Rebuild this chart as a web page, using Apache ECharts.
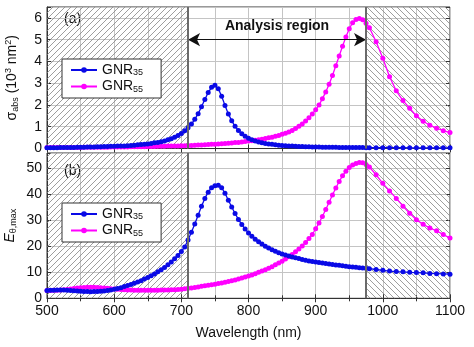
<!DOCTYPE html>
<html><head><meta charset="utf-8">
<script src="https://cdn.jsdelivr.net/npm/echarts@6/dist/echarts.min.js"></script>
<style>html,body{margin:0;padding:0;background:#fff}#c{width:474px;height:347px}</style>
</head><body><div id="c"></div>
<script>
// Wavelength samples (nm)
const wavelength = [
500,505,510,515,520,525,530,535,540,545,550,555,560,565,570,575,580,585,590,595,600,
605,610,615,620,625,630,635,640,645,650,655,660,665,670,675,680,685,690,695,700,
705,710,715,720,725,730,735,740,745,750,755,760,765,770,775,780,785,790,795,800,
805,810,815,820,825,830,835,840,845,850,855,860,865,870,875,880,885,890,895,900,
905,910,915,920,925,930,935,940,945,950,955,960,965,970,975,
980,990,1000,1010,1020,1030,1040,1050,1060,1070,1080,1090,1100];

// (a) absorption cross-section, 10^3 nm^2
const sigmaGNR35 = [
0.04,0.04,0.04,0.04,0.05,0.05,0.05,0.05,0.05,0.06,0.06,0.06,0.07,0.07,0.07,0.08,0.08,0.09,0.09,0.10,0.10,
0.11,0.12,0.12,0.13,0.14,0.15,0.17,0.18,0.20,0.21,0.23,0.26,0.28,0.31,0.35,0.40,0.45,0.52,0.60,0.69,
0.81,0.95,1.12,1.34,1.60,1.92,2.25,2.57,2.81,2.90,2.75,2.40,1.98,1.59,1.27,1.02,0.83,0.68,0.56,0.47,
0.40,0.34,0.30,0.26,0.23,0.21,0.19,0.17,0.15,0.14,0.13,0.12,0.11,0.10,0.09,0.09,0.08,0.08,0.07,0.07,
0.07,0.06,0.06,0.06,0.06,0.06,0.05,0.05,0.05,0.05,0.05,0.05,0.05,0.05,0.04,
0.04,0.04,0.04,0.04,0.04,0.04,0.03,0.03,0.03,0.03,0.03,0.03,0.03];
const sigmaGNR55 = [
0.05,0.05,0.05,0.05,0.05,0.05,0.05,0.05,0.05,0.05,0.05,0.06,0.06,0.06,0.06,0.06,0.06,0.06,0.06,0.07,0.07,
0.07,0.07,0.07,0.07,0.08,0.08,0.08,0.08,0.08,0.09,0.09,0.09,0.10,0.10,0.10,0.11,0.11,0.12,0.12,0.13,
0.13,0.14,0.14,0.15,0.16,0.16,0.17,0.18,0.19,0.20,0.21,0.22,0.23,0.24,0.25,0.27,0.28,0.30,0.32,0.34,
0.36,0.38,0.40,0.43,0.46,0.49,0.52,0.56,0.60,0.65,0.70,0.76,0.83,0.92,1.02,1.13,1.26,1.41,1.58,1.78,
2.00,2.28,2.60,2.95,3.35,3.80,4.25,4.70,5.12,5.50,5.78,5.93,5.97,5.92,5.75,
5.55,4.90,4.15,3.30,2.65,2.20,1.85,1.50,1.25,1.07,0.93,0.82,0.73];

// (b) maximum field enhancement
const eGNR35 = [
3.0,3.1,3.1,3.2,3.2,3.2,3.1,3.0,2.9,2.8,2.7,2.6,2.6,2.5,2.6,2.6,2.7,2.8,3.0,3.2,3.5,
3.8,4.1,4.5,4.9,5.3,5.8,6.3,6.8,7.4,8.0,8.7,9.4,10.2,11.0,11.9,12.9,14.0,15.2,16.5,18.0,
19.8,22.5,25.5,28.6,32.0,35.5,38.5,40.9,42.6,43.4,43.6,42.6,40.5,37.8,35.2,32.7,30.4,28.4,26.7,25.2,
23.9,22.8,21.8,20.9,20.1,19.4,18.7,18.1,17.6,17.1,16.7,16.3,15.9,15.6,15.3,15.0,14.7,14.4,14.2,14.0,
13.8,13.6,13.4,13.2,13.0,12.8,12.7,12.5,12.4,12.2,12.1,12.0,11.8,11.7,11.6,
11.4,11.1,10.8,10.5,10.3,10.2,10.0,9.9,9.8,9.6,9.5,9.4,9.3];
const eGNR55 = [
3.0,3.0,3.1,3.1,3.2,3.3,3.4,3.6,3.8,4.0,4.1,4.2,4.3,4.3,4.3,4.2,4.1,4.0,3.9,3.7,3.6,
3.5,3.4,3.3,3.2,3.2,3.1,3.1,3.1,3.1,3.1,3.1,3.1,3.1,3.2,3.2,3.2,3.3,3.3,3.4,3.5,
3.7,3.9,4.0,4.2,4.4,4.6,4.8,5.0,5.2,5.4,5.7,5.9,6.2,6.5,6.8,7.1,7.4,7.8,8.2,8.6,
9.0,9.5,10.0,10.5,11.0,11.6,12.2,12.9,13.6,14.3,15.1,16.0,16.9,17.9,19.0,20.2,21.5,23.0,24.6,26.8,
29.0,31.5,34.2,37.0,39.8,42.5,45.0,47.2,49.0,50.4,51.4,52.0,52.3,52.2,51.6,
50.6,47.6,44.3,41.4,38.5,35.5,32.8,30.3,28.5,27.1,26.0,24.6,23.2];

const seriesNames = ['GNR35', 'GNR55'];
const regionBounds = [710, 975];
const xRange = [500, 1100];
const arrowLevel = 5;

const BLUE = '#0a0ae6', MAG = '#ff00ff';
const FONT = 'Liberation Sans, Arial, sans-serif';

function hatch(dir) {
  const c = document.createElement('canvas');
  c.width = 6; c.height = 6;
  const g = c.getContext('2d');
  g.strokeStyle = '#858585'; g.lineWidth = 0.8;
  g.beginPath();
  if (dir > 0) {
    g.moveTo(0, 6); g.lineTo(6, 0);
    g.moveTo(-1, 1); g.lineTo(1, -1);
    g.moveTo(5, 7); g.lineTo(7, 5);
  } else {
    g.moveTo(0, 0); g.lineTo(6, 6);
    g.moveTo(-1, 5); g.lineTo(1, 7);
    g.moveTo(5, -1); g.lineTo(7, 1);
  }
  g.stroke();
  return c;
}
const hatchL = { image: hatch(1), repeat: 'repeat' };
const hatchR = { image: hatch(-1), repeat: 'repeat' };

const zip = (xs, ys) => xs.map((x, i) => [x, ys[i]]);

const grids = [
  { left: 47, top: 7, width: 403, height: 141.5, show: true, borderColor: '#333', borderWidth: 1, backgroundColor: 'transparent', outerBoundsMode: 'none', containLabel: false },
  { left: 47, top: 153, width: 403, height: 145.3, show: true, borderColor: '#333', borderWidth: 1, backgroundColor: 'transparent', outerBoundsMode: 'none', containLabel: false }
];

function mainX(gi, labels) {
  return {
    type: 'value', gridIndex: gi, min: xRange[0], max: xRange[1], interval: 100,
    axisLine: { show: true, lineStyle: { color: '#333' } },
    axisTick: { show: true, inside: true, length: 4, lineStyle: { color: '#333' } },
    minorTick: { show: true, splitNumber: 2, length: 3, lineStyle: { color: '#333' } },
    splitLine: { show: true, lineStyle: { color: '#c4c4c4', width: 1 } },
    minorSplitLine: { show: true, lineStyle: { color: '#c4c4c4', width: 1 } },
    axisLabel: { show: labels, fontSize: 14, color: '#111', fontFamily: FONT, margin: 6, formatter: v => String(v) },
    name: labels ? 'Wavelength (nm)' : '', nameLocation: 'middle', nameGap: 28,
    nameTextStyle: { fontSize: 14, color: '#111', fontFamily: FONT }
  };
}
function topX(gi) {
  return {
    type: 'value', gridIndex: gi, position: 'top', min: xRange[0], max: xRange[1], interval: 100,
    axisLine: { show: false }, axisLabel: { show: false }, splitLine: { show: false },
    axisTick: { show: true, inside: true, length: 4, lineStyle: { color: '#333' } },
    minorTick: { show: true, splitNumber: 2, length: 3, lineStyle: { color: '#333' } }
  };
}
const richName = {
  a: { fontSize: 14, color: '#111', fontFamily: FONT },
  i: { fontSize: 14, color: '#111', fontFamily: FONT, fontStyle: 'italic' },
  b: { fontSize: 9, color: '#111', fontFamily: FONT, verticalAlign: 'bottom', padding: [7, 0, 0, 0] },
  c: { fontSize: 9, color: '#111', fontFamily: FONT, verticalAlign: 'top', padding: [0, 0, 7, 0] }
};
function mainY(gi, max, interval, name, gap) {
  return {
    type: 'value', gridIndex: gi, min: 0, max: max, interval: interval,
    axisLine: { show: true, lineStyle: { color: '#333' } },
    axisTick: { show: true, inside: true, length: 4, lineStyle: { color: '#333' } },
    splitLine: { show: true, lineStyle: { color: '#c4c4c4', width: 1 } },
    axisLabel: { fontSize: 14, color: '#111', fontFamily: FONT, margin: 5,
      formatter: v => (Math.abs(v % interval) < 1e-9 ? String(v) : '') },
    name: name, nameLocation: 'middle', nameRotate: 90, nameGap: gap,
    nameMoveOverlap: false,
    nameTextStyle: { rich: richName }
  };
}
function rightY(gi, max, interval) {
  return {
    type: 'value', gridIndex: gi, position: 'right', min: 0, max: max, interval: interval,
    axisLine: { show: false }, axisLabel: { show: false }, splitLine: { show: false },
    axisTick: { show: true, inside: true, length: 4, lineStyle: { color: '#333' } }
  };
}

const legendRich = {
  n: { fontSize: 14, color: '#111', fontFamily: FONT },
  s: { fontSize: 9, color: '#111', fontFamily: FONT, verticalAlign: 'bottom', padding: [6, 0, 0, 0] }
};
function legend(top) {
  return {
    orient: 'vertical', left: 62, top: top, data: seriesNames,
    backgroundColor: '#fff', borderColor: '#333', borderWidth: 1, borderRadius: 0,
    padding: [4, 18, 4, 8], itemWidth: 26, itemHeight: 7, itemGap: 2,
    selectedMode: false,
    textStyle: { rich: legendRich },
    formatter: n => '{n|' + n.slice(0, 3) + '}{s|' + n.slice(3) + '}'
  };
}

function lineSeries(name, color, xi, yi, data, z) {
  return {
    name: name, type: 'line', xAxisIndex: xi, yAxisIndex: yi, data: data,
    symbol: 'circle', symbolSize: 5, showSymbol: true, clip: false, z: z,
    lineStyle: { color: color, width: 1.3 }, itemStyle: { color: color },
    emphasis: { disabled: true }, animation: false
  };
}

const regionArea = {
  silent: true,
  data: [
    [{ xAxis: xRange[0], itemStyle: { color: hatchL } }, { xAxis: regionBounds[0] }],
    [{ xAxis: regionBounds[1], itemStyle: { color: hatchR } }, { xAxis: xRange[1] }]
  ]
};
const regionLines = {
  silent: true, symbol: ['none', 'none'], animation: false,
  lineStyle: { color: '#6a6a6a', width: 2, type: 'solid' },
  label: { show: false },
  data: regionBounds.map(v => ({ xAxis: v }))
};

const s35a = lineSeries('GNR35', BLUE, 0, 0, zip(wavelength, sigmaGNR35), 4);
s35a.markLine = {
  silent: true, symbol: ['arrow', 'arrow'], symbolSize: [10, 12], animation: false,
  lineStyle: { color: '#111', width: 1, type: 'solid' },
  label: { show: true, position: 'insideMiddleTop', formatter: 'Analysis region',
    fontSize: 14, fontWeight: 'bold', color: '#111', fontFamily: FONT, distance: 7 },
  data: [[{ coord: [regionBounds[0], arrowLevel] }, { coord: [regionBounds[1], arrowLevel] }]]
};
const s55a = lineSeries('GNR55', MAG, 0, 0, zip(wavelength, sigmaGNR55), 3);
s55a.markArea = regionArea;
s55a.markLine = regionLines;
const s35b = lineSeries('GNR35', BLUE, 1, 1, zip(wavelength, eGNR35), 4);
const s55b = lineSeries('GNR55', MAG, 1, 1, zip(wavelength, eGNR55), 3);
s55b.markArea = regionArea;
s55b.markLine = regionLines;

const chart = echarts.init(document.getElementById('c'), null, { renderer: 'canvas' });
chart.setOption({
  animation: false,
  backgroundColor: '#fff',
  grid: grids,
  xAxis: [mainX(0, false), mainX(1, true), topX(0), topX(1)],
  yAxis: [
    mainY(0, 6.5, 1, '{a|σ}{b|abs}{a| (10}{c|3}{a| nm}{c|2}{a|)}', 27),
    mainY(1, 56, 10, '{i|E}{b|θ,max}', 29),
    rightY(0, 6.5, 1), rightY(1, 56, 10)
  ],
  legend: [legend(59), legend(203)],
  graphic: [
    { type: 'text', left: 64, top: 12, style: { text: '(a)', fontSize: 14, fill: '#111', fontFamily: FONT } },
    { type: 'text', left: 64, top: 164, style: { text: '(b)', fontSize: 14, fill: '#111', fontFamily: FONT } }
  ],
  series: [s35a, s55a, s35b, s55b]
});
</script>
</body></html>
